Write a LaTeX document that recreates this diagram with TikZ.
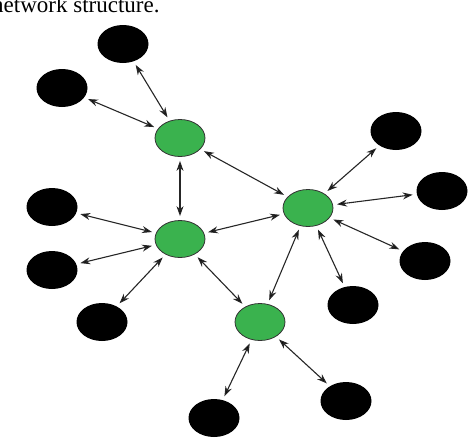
\documentclass[tikz,border=0pt]{standalone}
\usepackage{fontspec}
\setmainfont{Liberation Serif}
\usepackage{tikz}
\usetikzlibrary{arrows.meta,shapes.geometric}
\definecolor{hubgreen}{RGB}{58,178,78}
\tikzstyle{hub}=[ellipse,draw=black!80,line width=0.8pt,fill=hubgreen,minimum width=50pt,minimum height=37pt,inner sep=0pt]
\tikzstyle{leaf}=[ellipse,fill=black,minimum width=51pt,minimum height=38pt,inner sep=0pt]
\begin{document}
\begin{tikzpicture}[x=1pt,y=-1pt]
\useasboundingbox (0,0) rectangle (474,440);
\node[anchor=base west,inner sep=0pt,font=\fontsize{23}{23}\selectfont] (T) at (-8,12) {network structure.};
% hubs
\node[hub] (A) at (180,138) {};
\node[hub] (B) at (180,239) {};
\node[hub] (C) at (308,208) {};
\node[hub] (D) at (260,322) {};
% leaves
\node[leaf] (L1) at (123,44) {};
\node[leaf] (L2) at (62,88) {};
\node[leaf] (L3) at (52,207) {};
\node[leaf] (L4) at (52,270) {};
\node[leaf] (L5) at (102,322) {};
\node[leaf] (L6) at (214,418) {};
\node[leaf] (L7) at (346,401) {};
\node[leaf] (L8) at (353,305) {};
\node[leaf] (L9) at (425,261) {};
\node[leaf] (L10) at (442,191) {};
\node[leaf] (L11) at (396,131) {};
\path[<->,line width=1.1pt,draw=black!85,>={Stealth[length=10pt,width=7pt]},shorten >=4pt,shorten <=4pt]
(A) edge (L1)
(A) edge (L2)
(A) edge (B)
(A) edge (C)
(B) edge (L3)
(B) edge (L4)
(B) edge (L5)
(B) edge (C)
(B) edge (D)
(C) edge (L11)
(C) edge (L10)
(C) edge (L9)
(C) edge (L8)
(C) edge (D)
(D) edge (L6)
(D) edge (L7);
\end{tikzpicture}
\end{document}
